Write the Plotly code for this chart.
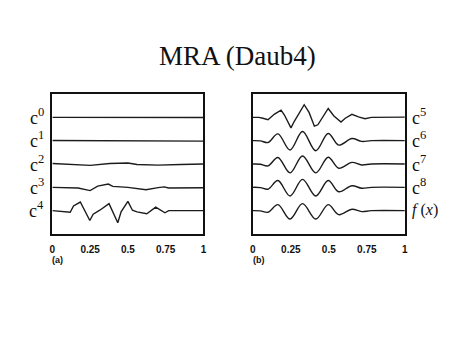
import plotly.graph_objects as go

# ---------------- data (deviation of each curve from its own baseline) ----------------
left_labels = ["c<sup>0</sup>", "c<sup>1</sup>", "c<sup>2</sup>", "c<sup>3</sup>", "c<sup>4</sup>"]
right_labels = ["c<sup>5</sup>", "c<sup>6</sup>", "c<sup>7</sup>", "c<sup>8</sup>", "<i>f</i> (<i>x</i>)"]
tick_vals = [0, 0.25, 0.5, 0.75, 1]
tick_text = ["0", "0.25", "0.5", "0.75", "1"]

c0_x = [0, 0.5, 1]
c0_y = [0.0, 0.0, -0.01]
c1_x = [0, 0.5, 1]
c1_y = [0.01, 0.0, -0.02]
c2_x = [0, 0.1, 0.25, 0.38, 0.5, 0.56, 0.7, 0.85, 1]
c2_y = [0.02, 0.0, -0.06, 0.02, 0.04, -0.02, -0.05, -0.02, 0.0]
c3_x = [0, 0.12, 0.17, 0.25, 0.3, 0.37, 0.4, 0.5, 0.62, 0.7, 0.74, 0.77, 1]
c3_y = [0.0, 0.0, -0.03, -0.14, 0.05, 0.14, 0.04, 0.0, -0.1, -0.01, 0.02, -0.03, -0.02]
c4_x = [0, 0.06, 0.118, 0.14, 0.185, 0.248, 0.27, 0.314, 0.375, 0.433, 0.455, 0.5, 0.53,
        0.56, 0.625, 0.684, 0.745, 0.77, 1]
c4_y = [0.0, -0.02, -0.07, 0.2, 0.37, -0.42, -0.15, 0.02, 0.3, -0.52, -0.05, 0.4, 0.02,
        -0.05, -0.13, 0.15, -0.09, 0.0, 0.0]

c5_x = [0, 0.04, 0.067, 0.1, 0.143, 0.186, 0.208, 0.251, 0.273, 0.305, 0.338, 0.37, 0.405,
        0.428, 0.45, 0.496, 0.532, 0.58, 0.608, 0.652, 0.695, 0.738, 0.78, 0.9, 1]
c5_y = [0.0, 0.0, -0.04, -0.1, 0.14, 0.31, 0.1, -0.45, -0.17, 0.21, 0.54, 0.21, -0.38,
        -0.32, -0.1, 0.38, 0.07, -0.2, -0.04, 0.13, 0.02, -0.06, 0.0, 0.01, 0.01]
c6_x = [0, 0.05, 0.1, 0.165, 0.245, 0.327, 0.414, 0.496, 0.565, 0.652, 0.716, 0.78, 1]
c6_y = [0.0, -0.01, -0.08, 0.29, -0.4, 0.39, -0.43, 0.31, -0.19, 0.09, -0.03, 0.0, 0.0]
c7_x = [0, 0.05, 0.1, 0.165, 0.245, 0.327, 0.414, 0.496, 0.565, 0.652, 0.716, 0.78, 1]
c7_y = [0.0, -0.01, -0.08, 0.28, -0.38, 0.34, -0.38, 0.29, -0.18, 0.07, -0.04, 0.0, 0.0]
c8_x = [0, 0.05, 0.1, 0.165, 0.245, 0.327, 0.414, 0.496, 0.565, 0.652, 0.716, 0.78, 1]
c8_y = [0.0, -0.01, -0.08, 0.29, -0.37, 0.34, -0.37, 0.29, -0.19, 0.07, -0.04, 0.0, 0.0]
f_x = [0, 0.05, 0.1, 0.165, 0.245, 0.327, 0.414, 0.496, 0.565, 0.652, 0.716, 0.78, 1]
f_y = [0.0, -0.01, -0.07, 0.26, -0.36, 0.3, -0.36, 0.26, -0.17, 0.06, -0.04, 0.0, 0.0]

left_curves = [(c0_x, c0_y, "linear"), (c1_x, c1_y, "linear"), (c2_x, c2_y, "linear"),
               (c3_x, c3_y, "linear"), (c4_x, c4_y, "linear")]
right_curves = [(c5_x, c5_y, "linear"), (c6_x, c6_y, "spline"), (c7_x, c7_y, "spline"),
                (c8_x, c8_y, "spline"), (f_x, f_y, "spline")]

# ---------------- figure ----------------
W, H = 474, 355
LINE = "#1c1c1c"
fig = go.Figure()

def add_panel(curves, xa, ya):
    for i, (xs, ys, shape) in enumerate(curves):
        base = 5 - i
        fig.add_trace(go.Scatter(
            x=xs, y=[base + v for v in ys], mode="lines",
            line=dict(color=LINE, width=1.4, shape=shape, smoothing=1.0),
            xaxis=xa, yaxis=ya, showlegend=False, hoverinfo="skip"))

add_panel(left_curves, "x", "y")
add_panel(right_curves, "x2", "y2")

def px_x(p):
    return p / W

def px_y(p):
    return 1 - p / H

ydom = [px_y(234), px_y(94)]
axis_common = dict(showline=True, mirror=True, linecolor="#111", linewidth=1.6,
                   showgrid=False, zeroline=False, ticks="")
xaxis_common = dict(axis_common, range=[0, 1], tickvals=tick_vals, ticktext=tick_text,
                    tickfont=dict(family="Liberation Sans", size=10, color="#111", weight="bold"),
                    ticklen=0, ticklabelstandoff=5)
yaxis_common = dict(axis_common, range=[0, 6], showticklabels=False)

fig.update_layout(
    width=W, height=H, margin=dict(l=0, r=0, t=0, b=0),
    paper_bgcolor="white", plot_bgcolor="white",
    xaxis=dict(xaxis_common, domain=[px_x(50), px_x(203)], anchor="y"),
    yaxis=dict(yaxis_common, domain=ydom, anchor="x"),
    xaxis2=dict(xaxis_common, domain=[px_x(253), px_x(407)], anchor="y2"),
    yaxis2=dict(yaxis_common, domain=ydom, anchor="x2"),
)

annos = [dict(text="MRA (Daub4)", x=px_x(237), y=px_y(56), xref="paper", yref="paper",
              showarrow=False, xanchor="center", yanchor="middle",
              font=dict(family="Liberation Serif", size=27, color="#111"))]
for i, lab in enumerate(left_labels):
    annos.append(dict(text=lab, x=px_x(44), y=5 - i, xref="paper", yref="y",
                      showarrow=False, xanchor="right", yanchor="middle", yshift=1,
                      font=dict(family="Liberation Serif", size=18, color="#111")))
for i, lab in enumerate(right_labels):
    annos.append(dict(text=lab, x=px_x(412), y=5 - i, xref="paper", yref="y2",
                      showarrow=False, xanchor="left", yanchor="middle", yshift=1,
                      font=dict(family="Liberation Serif", size=18 if i < 4 else 16, color="#111")))
annos.append(dict(text="(a)", x=px_x(48), y=px_y(260), xref="paper", yref="paper",
                  showarrow=False, xanchor="left", yanchor="middle",
                  font=dict(family="Liberation Sans", size=9, color="#111", weight="bold")))
annos.append(dict(text="(b)", x=px_x(251), y=px_y(260), xref="paper", yref="paper",
                  showarrow=False, xanchor="left", yanchor="middle",
                  font=dict(family="Liberation Sans", size=9, color="#111", weight="bold")))
fig.update_layout(annotations=annos)

fig.write_html("out.html")
